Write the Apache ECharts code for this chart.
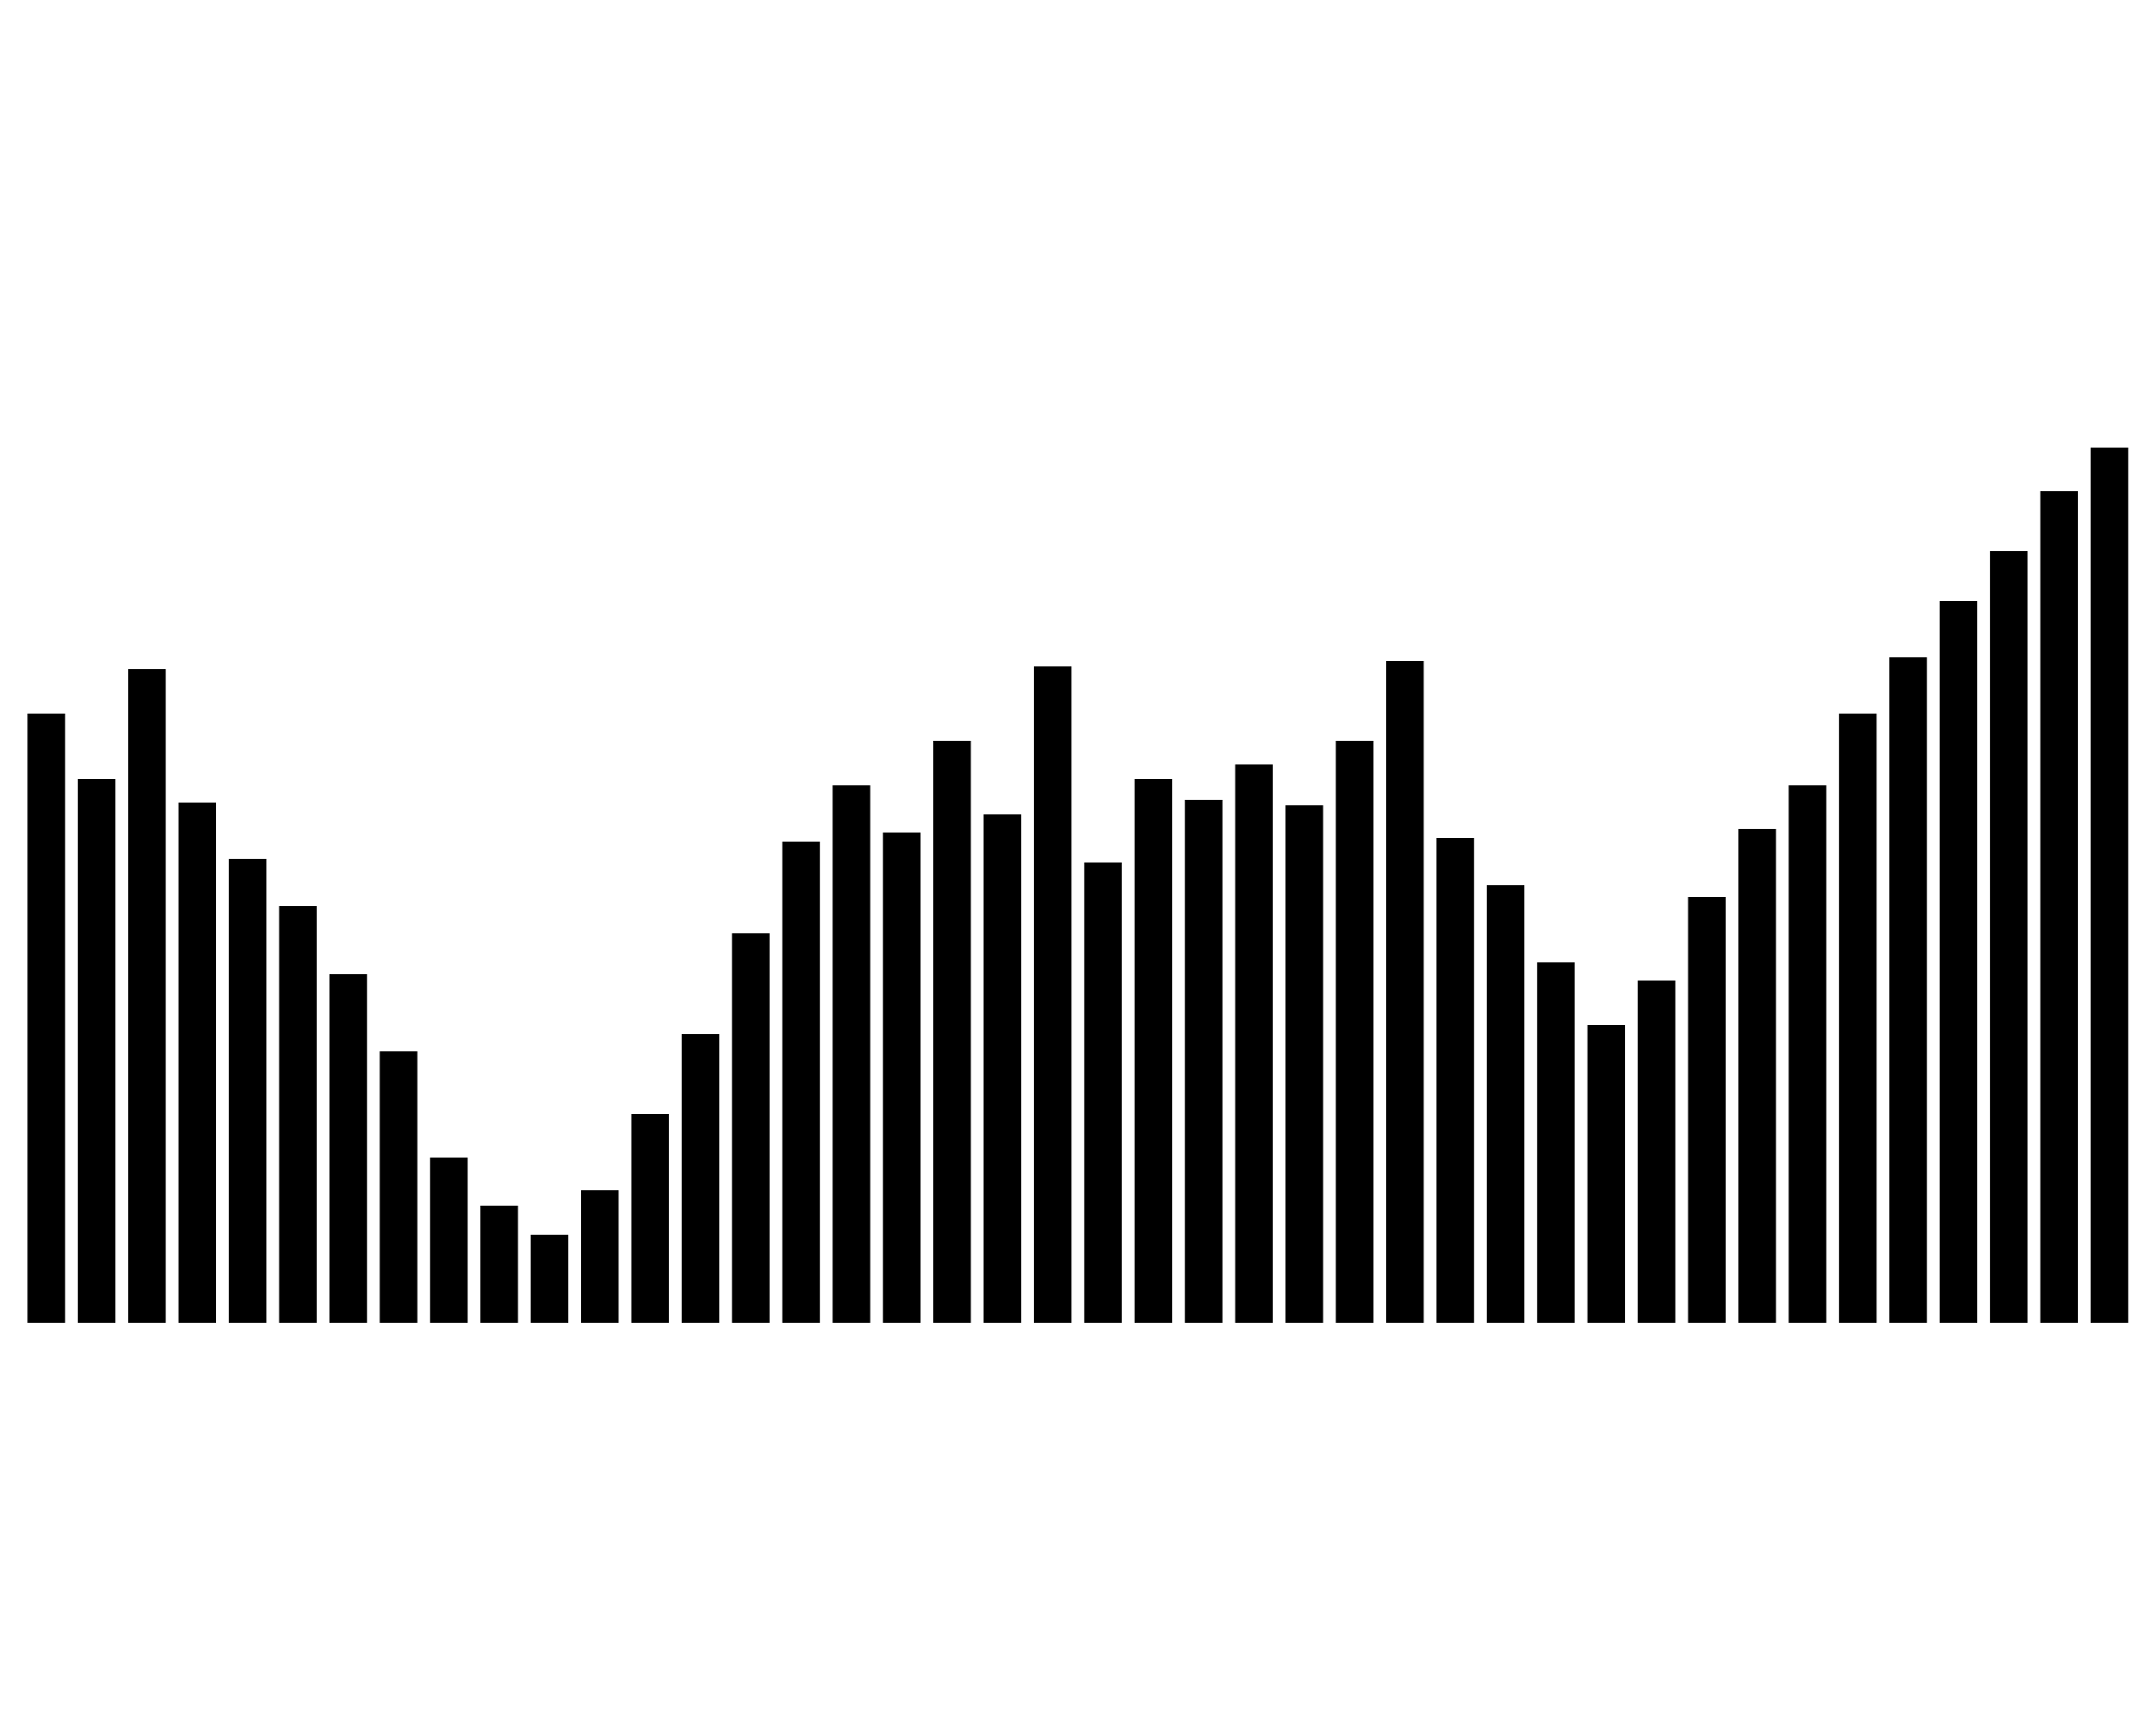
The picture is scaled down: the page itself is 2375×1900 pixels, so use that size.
<!DOCTYPE html>
<html>
<head>
<meta charset="utf-8">
<script src="https://cdn.jsdelivr.net/npm/echarts@6/dist/echarts.min.js"></script>
<style>
  html, body { margin: 0; padding: 0; background: #ffffff; }
  #chart { width: 2375px; height: 1900px; }
</style>
</head>
<body>
<div id="chart"></div>
<script>
// Categories (42 bars, no visible labels)
const categories = Array.from({length: 42}, (_, i) => String(i + 1));
// Bar values
const values = [
  671, 599, 720, 573, 511, 459, 384, 299, 182, 129,
  97, 146, 230, 318, 429, 530, 592, 540, 641, 560,
  723, 507, 599, 576, 615, 570, 641, 729, 534, 482,
  397, 328, 377, 469, 544, 592, 671, 733, 795, 850,
  916, 964
];
const yMax = 1000;

const chart = echarts.init(document.getElementById('chart'), null, {renderer: 'canvas'});
chart.setOption({
  animation: false,
  backgroundColor: '#ffffff',
  grid: { left: 23.3, right: 23.6, top: 457, bottom: 443, containLabel: false },
  xAxis: {
    type: 'category',
    data: categories,
    show: false
  },
  yAxis: {
    type: 'value',
    min: 0,
    max: yMax,
    show: false,
    splitLine: { show: false }
  },
  series: [{
    type: 'bar',
    data: values,
    barWidth: 41.4,
    itemStyle: { color: '#000000' }
  }]
});
</script>
</body>
</html>
